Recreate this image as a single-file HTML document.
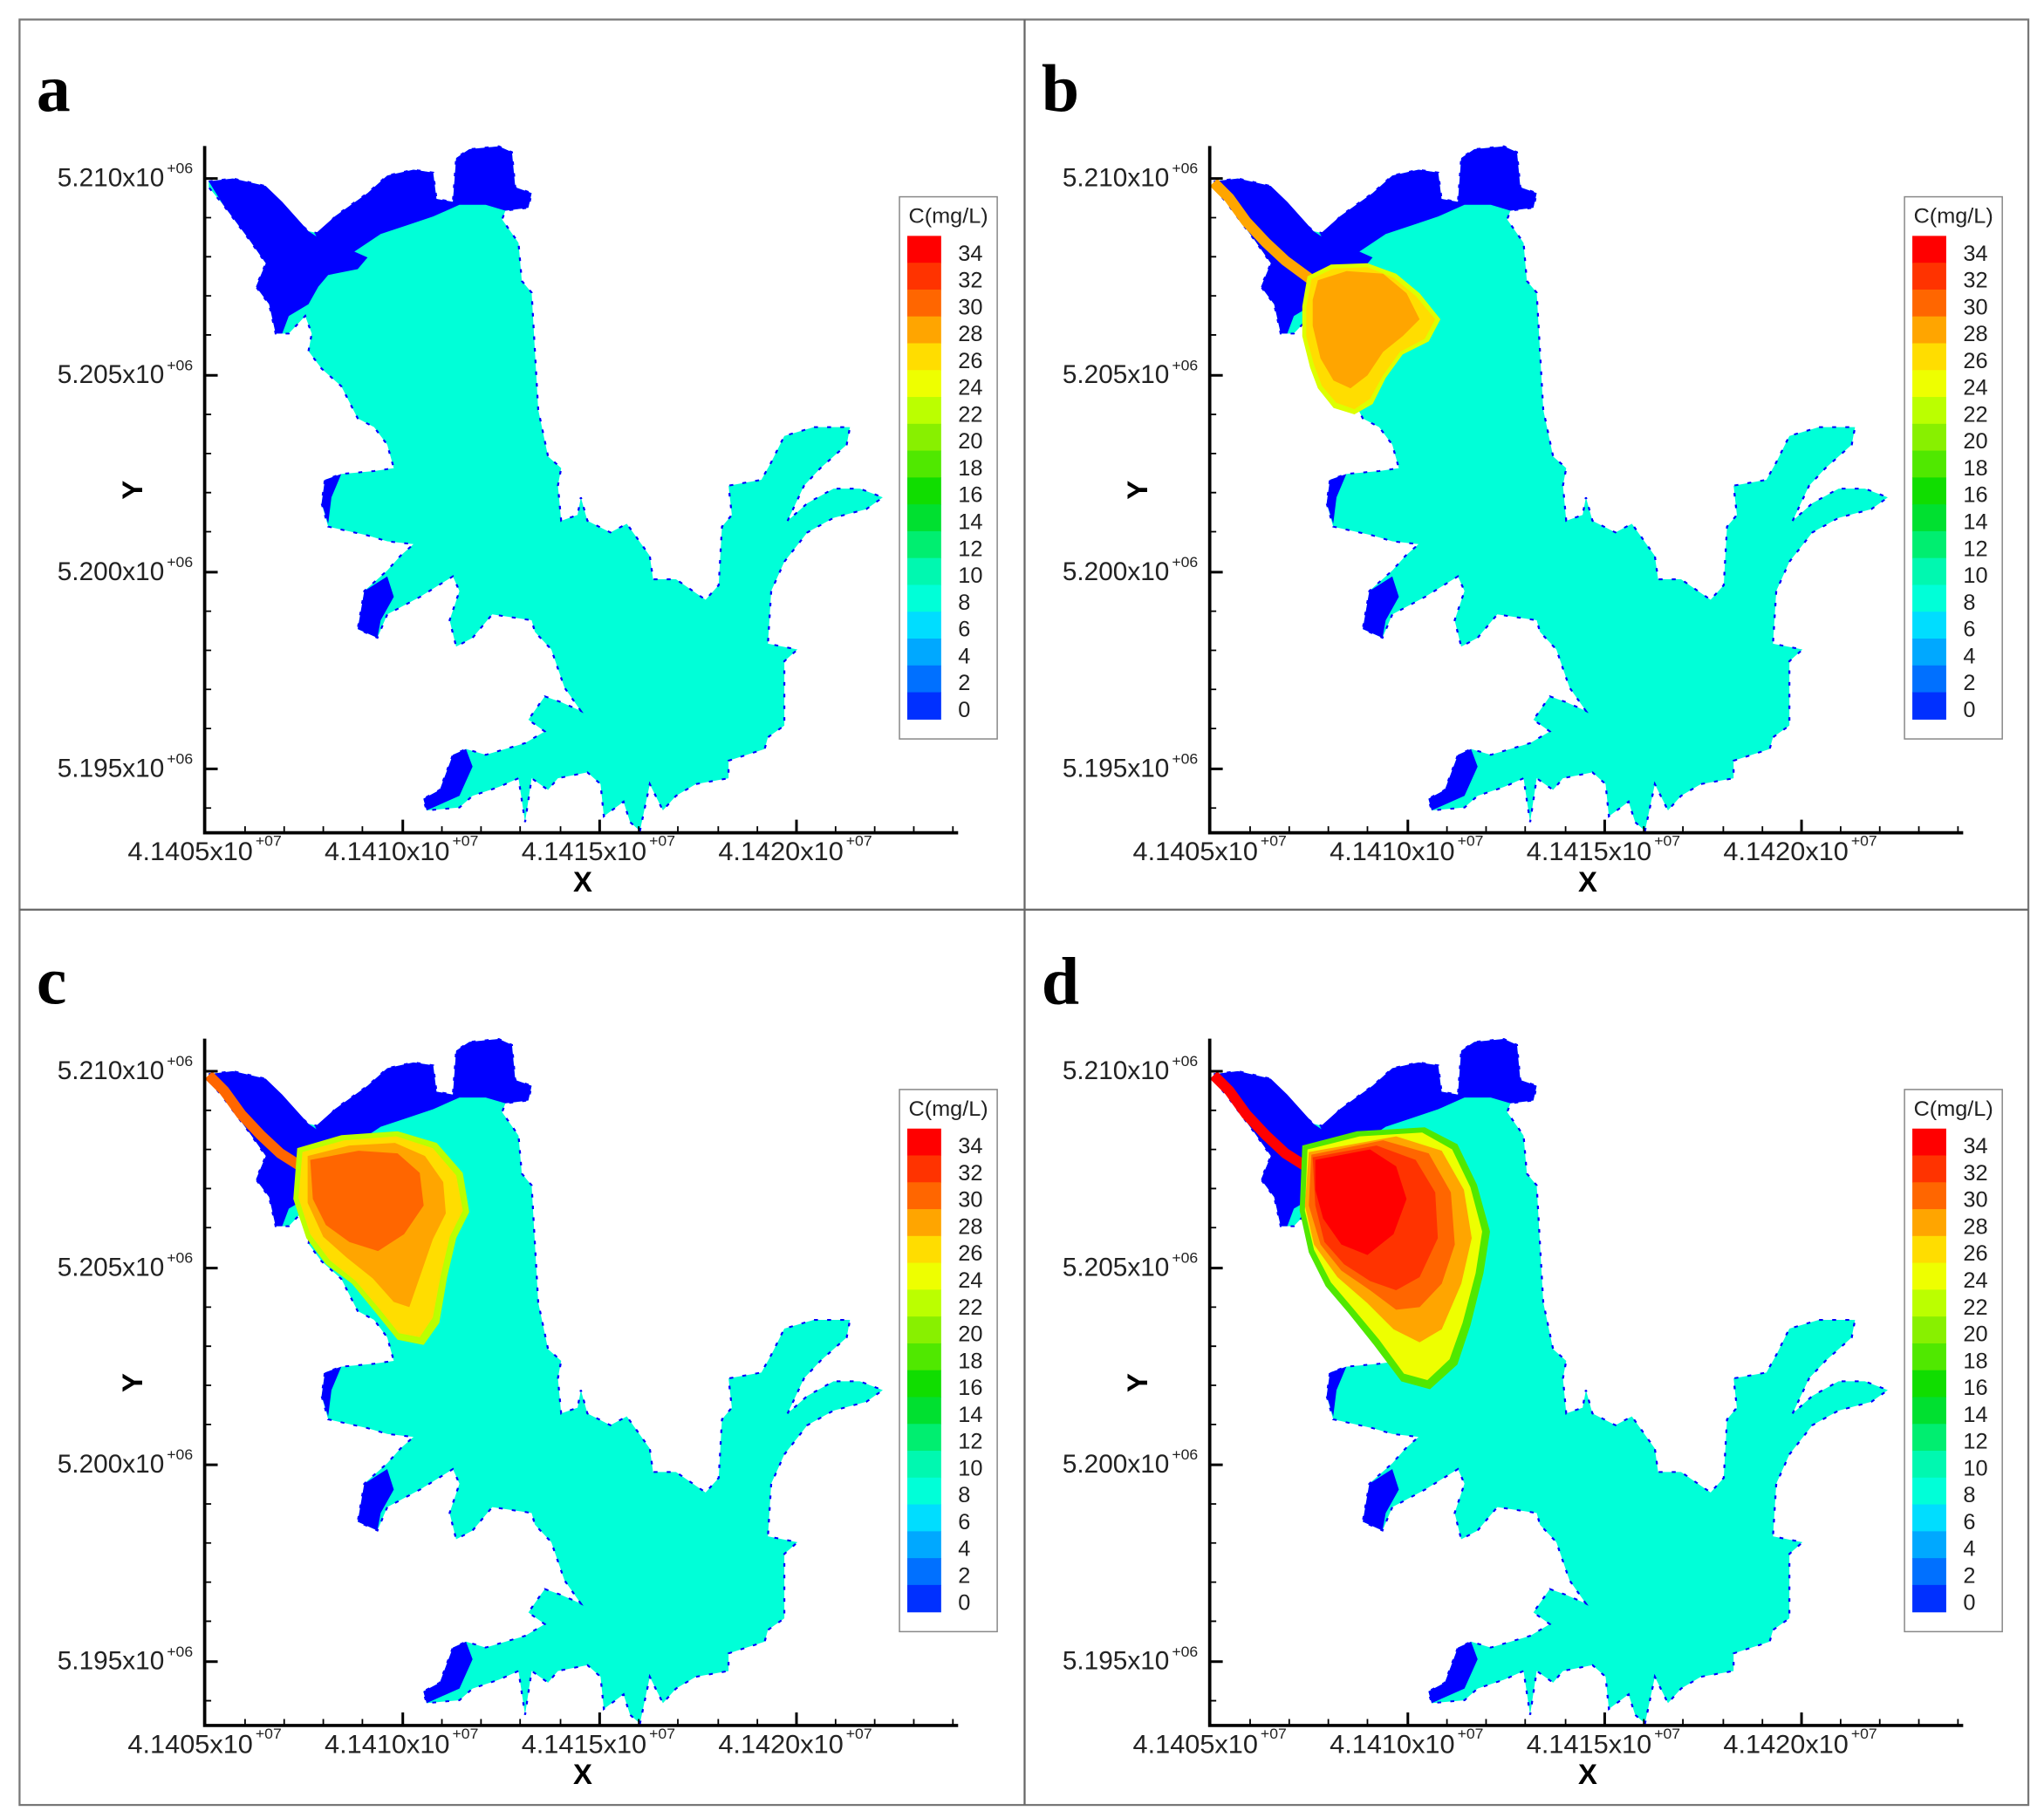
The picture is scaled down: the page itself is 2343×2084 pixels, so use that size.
<!DOCTYPE html>
<html><head><meta charset="utf-8"><style>
html,body{margin:0;padding:0;background:#fff}
svg{display:block}
</style></head><body>
<svg width="2343" height="2084" viewBox="0 0 1568 1395" preserveAspectRatio="none" xmlns="http://www.w3.org/2000/svg" xmlns:xlink="http://www.w3.org/1999/xlink">
<defs>
<g id="lake">
<g transform="scale(0.5035,0.449)">
<polygon fill="#00ffd8" stroke="#0000ff" stroke-width="3" stroke-dasharray="6 14" points="318,310 355,305 405,318 420,345 445,370 470,395 490,400 510,370 535,350 560,330 590,300 630,290 660,295 665,340 690,345 695,270 715,255 760,250 780,260 785,320 810,330 805,355 770,360 765,375 790,415 795,480 810,500 815,600 820,700 835,780 855,800 850,830 855,890 880,880 885,850 895,890 930,910 955,895 990,950 995,990 1030,990 1075,1025 1095,1000 1100,900 1115,880 1110,830 1160,820 1175,790 1195,745 1240,730 1295,730 1290,760 1250,800 1225,830 1200,890 1230,860 1270,835 1310,835 1345,850 1320,870 1270,885 1230,910 1195,960 1175,1010 1170,1100 1215,1110 1195,1130 1195,1240 1170,1260 1165,1280 1110,1300 1110,1330 1060,1340 1030,1360 1010,1385 990,1340 975,1420 960,1405 950,1370 920,1395 915,1340 895,1320 850,1330 835,1350 810,1330 800,1405 790,1330 760,1345 720,1360 700,1380 650,1385 645,1365 670,1350 690,1290 710,1280 740,1290 800,1270 830,1250 805,1230 830,1190 855,1200 885,1215 860,1175 840,1110 815,1080 810,1060 750,1050 720,1090 695,1105 685,1060 700,1010 690,985 640,1020 590,1050 575,1090 545,1075 555,1010 590,975 610,950 630,930 590,925 560,915 500,900 490,860 495,820 520,810 570,805 600,800 590,760 570,730 545,715 520,660 490,630 470,600 475,570 465,540 440,570 420,570 410,520 390,490 405,450 380,410 340,350 318,320"/>
<polygon fill="#0000ff" points="318,310 355,305 405,318 430,345 470,395 490,410 520,420 560,440 545,460 500,470 485,490 470,520 440,540 430,570 420,570 410,520 390,490 405,450 380,410 340,350"/>
<polygon fill="#0000ff" points="480,400 510,370 560,330 590,300 630,290 660,295 665,340 690,345 695,270 715,255 760,250 780,260 785,320 810,330 805,355 770,360 740,350 700,350 660,370 620,385 580,400 540,430 500,440"/>
<polygon fill="#0000ff" points="545,1075 555,1010 590,985 600,1020 580,1060 575,1090"/>
<polygon fill="#0000ff" points="645,1365 670,1350 690,1290 710,1280 720,1310 700,1360 650,1385"/>
<polygon fill="#0000ff" points="490,860 495,820 520,810 505,850 500,895"/>
</g>
</g>
<g id="axes" stroke="#000" fill="none">
<path d="M157,112V639H735" stroke-width="2.5"/>
<path d="M157,137h10M157,288h10M157,439h10M157,590h10M309,639v-10M460,639v-10M611,639v-10" stroke-width="2"/>
<path d="M157,167h5M157,197h5M157,227h5M157,257h5M157,318h5M157,348h5M157,378h5M157,408h5M157,469h5M157,499h5M157,529h5M157,559h5M157,620h5M188,639v-5M218,639v-5M248,639v-5M278,639v-5M339,639v-5M369,639v-5M399,639v-5M430,639v-5M490,639v-5M520,639v-5M551,639v-5M581,639v-5M641,639v-5M671,639v-5M701,639v-5M731,639v-5" stroke-width="1.2"/>
</g>
<g id="cbar">
<rect x="690" y="151" width="75" height="416" fill="#fff" stroke="#888" stroke-width="1"/>
<rect x="696" y="181" width="26" height="21" fill="#ff0000"/>
<rect x="696" y="201.6" width="26" height="21" fill="#ff3300"/>
<rect x="696" y="222.2" width="26" height="21" fill="#ff6600"/>
<rect x="696" y="242.8" width="26" height="21" fill="#ffa500"/>
<rect x="696" y="263.4" width="26" height="21" fill="#ffdd00"/>
<rect x="696" y="284" width="26" height="21" fill="#eeff00"/>
<rect x="696" y="304.6" width="26" height="21" fill="#bbff00"/>
<rect x="696" y="325.2" width="26" height="21" fill="#88f000"/>
<rect x="696" y="345.8" width="26" height="21" fill="#50e800"/>
<rect x="696" y="366.4" width="26" height="21" fill="#10dd00"/>
<rect x="696" y="387" width="26" height="21" fill="#00e030"/>
<rect x="696" y="407.6" width="26" height="21" fill="#00ee70"/>
<rect x="696" y="428.2" width="26" height="21" fill="#00f8b0"/>
<rect x="696" y="448.8" width="26" height="21" fill="#00ffd8"/>
<rect x="696" y="469.4" width="26" height="21" fill="#00ddff"/>
<rect x="696" y="490" width="26" height="21" fill="#00a8ff"/>
<rect x="696" y="510.6" width="26" height="21" fill="#0070ff"/>
<rect x="696" y="531.2" width="26" height="21" fill="#0030ff"/>
</g>
</defs>

<rect x="15" y="15" width="1541" height="1370" fill="none" stroke="#777" stroke-width="1.5"/>
<line x1="786" y1="15" x2="786" y2="1385" stroke="#666" stroke-width="1.5"/>
<line x1="15" y1="698" x2="1556" y2="698" stroke="#666" stroke-width="1.5"/>

<!-- PANEL A -->
<g transform="translate(0,0)">
<use xlink:href="#lake"/>
<use xlink:href="#axes"/>
<use xlink:href="#cbar"/>
<text x="28" y="85" font-family="Liberation Serif" font-weight="bold" font-size="52">a</text>
<g font-family="Liberation Sans" font-size="20" fill="#222">
<text x="44" y="143" textLength="82" lengthAdjust="spacingAndGlyphs">5.210x10</text><text x="128" y="133" font-size="11" textLength="20" lengthAdjust="spacingAndGlyphs">+06</text>
<text x="44" y="294" textLength="82" lengthAdjust="spacingAndGlyphs">5.205x10</text><text x="128" y="284" font-size="11" textLength="20" lengthAdjust="spacingAndGlyphs">+06</text>
<text x="44" y="445" textLength="82" lengthAdjust="spacingAndGlyphs">5.200x10</text><text x="128" y="435" font-size="11" textLength="20" lengthAdjust="spacingAndGlyphs">+06</text>
<text x="44" y="596" textLength="82" lengthAdjust="spacingAndGlyphs">5.195x10</text><text x="128" y="586" font-size="11" textLength="20" lengthAdjust="spacingAndGlyphs">+06</text>
<text x="98" y="660" textLength="96" lengthAdjust="spacingAndGlyphs">4.1405x10</text><text x="196" y="649" font-size="11" textLength="20" lengthAdjust="spacingAndGlyphs">+07</text>
<text x="249" y="660" textLength="96" lengthAdjust="spacingAndGlyphs">4.1410x10</text><text x="347" y="649" font-size="11" textLength="20" lengthAdjust="spacingAndGlyphs">+07</text>
<text x="400" y="660" textLength="96" lengthAdjust="spacingAndGlyphs">4.1415x10</text><text x="498" y="649" font-size="11" textLength="20" lengthAdjust="spacingAndGlyphs">+07</text>
<text x="551" y="660" textLength="96" lengthAdjust="spacingAndGlyphs">4.1420x10</text><text x="649" y="649" font-size="11" textLength="20" lengthAdjust="spacingAndGlyphs">+07</text>
<text x="447" y="684" text-anchor="middle" font-weight="bold" font-size="22" fill="#000">X</text>
<text transform="translate(109,376) rotate(-90)" text-anchor="middle" font-weight="bold" font-size="22" fill="#000">Y</text>
<text x="697" y="171" font-size="16" textLength="61" lengthAdjust="spacingAndGlyphs">C(mg/L)</text>
<g font-size="17"><text x="735" y="200">34</text><text x="735" y="220.6">32</text><text x="735" y="241.2">30</text><text x="735" y="261.8">28</text><text x="735" y="282.4">26</text><text x="735" y="303">24</text><text x="735" y="323.6">22</text><text x="735" y="344.2">20</text><text x="735" y="364.8">18</text><text x="735" y="385.4">16</text><text x="735" y="406">14</text><text x="735" y="426.6">12</text><text x="735" y="447.2">10</text><text x="735" y="467.8">8</text><text x="735" y="488.4">6</text><text x="735" y="509">4</text><text x="735" y="529.6">2</text><text x="735" y="550.2">0</text></g>
</g>
</g>

<!-- PANEL B -->
<g transform="translate(771,0)">
<use xlink:href="#lake"/>
<polyline points="160,140 172,152 185,170 200,186 215,200 234,214" fill="none" stroke="#ffa500" stroke-width="8"/>
<polygon fill="#ddff00" points="232,212 250,203 278,202 300,210 318,225 334,245 325,262 305,272 292,290 282,310 268,318 252,313 240,298 234,282 228,258 228,235"/>
<polygon fill="#ffdd00" points="235,214 252,206 278,205 298,213 315,227 330,245 322,260 303,270 290,288 280,306 268,314 254,309 243,296 237,280 231,258 231,236"/>
<polygon fill="#ffa500" points="240,215 262,208 290,210 308,225 318,245 305,258 290,270 278,288 265,298 252,292 242,275 236,250 236,230"/>
<use xlink:href="#axes"/>
<use xlink:href="#cbar"/>
<text x="28" y="85" font-family="Liberation Serif" font-weight="bold" font-size="52">b</text>
<g font-family="Liberation Sans" font-size="20" fill="#222">
<text x="44" y="143" textLength="82" lengthAdjust="spacingAndGlyphs">5.210x10</text><text x="128" y="133" font-size="11" textLength="20" lengthAdjust="spacingAndGlyphs">+06</text>
<text x="44" y="294" textLength="82" lengthAdjust="spacingAndGlyphs">5.205x10</text><text x="128" y="284" font-size="11" textLength="20" lengthAdjust="spacingAndGlyphs">+06</text>
<text x="44" y="445" textLength="82" lengthAdjust="spacingAndGlyphs">5.200x10</text><text x="128" y="435" font-size="11" textLength="20" lengthAdjust="spacingAndGlyphs">+06</text>
<text x="44" y="596" textLength="82" lengthAdjust="spacingAndGlyphs">5.195x10</text><text x="128" y="586" font-size="11" textLength="20" lengthAdjust="spacingAndGlyphs">+06</text>
<text x="98" y="660" textLength="96" lengthAdjust="spacingAndGlyphs">4.1405x10</text><text x="196" y="649" font-size="11" textLength="20" lengthAdjust="spacingAndGlyphs">+07</text>
<text x="249" y="660" textLength="96" lengthAdjust="spacingAndGlyphs">4.1410x10</text><text x="347" y="649" font-size="11" textLength="20" lengthAdjust="spacingAndGlyphs">+07</text>
<text x="400" y="660" textLength="96" lengthAdjust="spacingAndGlyphs">4.1415x10</text><text x="498" y="649" font-size="11" textLength="20" lengthAdjust="spacingAndGlyphs">+07</text>
<text x="551" y="660" textLength="96" lengthAdjust="spacingAndGlyphs">4.1420x10</text><text x="649" y="649" font-size="11" textLength="20" lengthAdjust="spacingAndGlyphs">+07</text>
<text x="447" y="684" text-anchor="middle" font-weight="bold" font-size="22" fill="#000">X</text>
<text transform="translate(109,376) rotate(-90)" text-anchor="middle" font-weight="bold" font-size="22" fill="#000">Y</text>
<text x="697" y="171" font-size="16" textLength="61" lengthAdjust="spacingAndGlyphs">C(mg/L)</text>
<g font-size="17"><text x="735" y="200">34</text><text x="735" y="220.6">32</text><text x="735" y="241.2">30</text><text x="735" y="261.8">28</text><text x="735" y="282.4">26</text><text x="735" y="303">24</text><text x="735" y="323.6">22</text><text x="735" y="344.2">20</text><text x="735" y="364.8">18</text><text x="735" y="385.4">16</text><text x="735" y="406">14</text><text x="735" y="426.6">12</text><text x="735" y="447.2">10</text><text x="735" y="467.8">8</text><text x="735" y="488.4">6</text><text x="735" y="509">4</text><text x="735" y="529.6">2</text><text x="735" y="550.2">0</text></g>
</g>
</g>

<!-- PANEL C -->
<g transform="translate(0,685)">
<use xlink:href="#lake"/>
<polyline points="160,140 172,152 185,170 200,186 215,200 234,212" fill="none" stroke="#ff6600" stroke-width="8"/>
<polygon fill="#bbff00" points="228,196 262,186 305,183 335,192 355,215 360,245 350,265 343,295 337,330 325,347 305,343 288,322 270,300 250,285 235,265 225,235"/>
<polygon fill="#ffdd00" points="232,199 264,190 304,187 332,196 350,217 355,244 345,264 338,294 332,326 322,341 306,338 290,318 273,298 253,282 238,262 229,234"/>
<polygon fill="#ffa500" points="236,202 268,194 303,192 326,202 340,222 342,246 332,266 322,295 314,318 302,314 286,296 266,280 248,264 236,238"/>
<polygon fill="#ff6600" points="238,205 275,198 305,200 322,215 325,240 310,262 290,275 268,268 250,255 240,235"/>
<use xlink:href="#axes"/>
<use xlink:href="#cbar"/>
<text x="28" y="85" font-family="Liberation Serif" font-weight="bold" font-size="52">c</text>
<g font-family="Liberation Sans" font-size="20" fill="#222">
<text x="44" y="143" textLength="82" lengthAdjust="spacingAndGlyphs">5.210x10</text><text x="128" y="133" font-size="11" textLength="20" lengthAdjust="spacingAndGlyphs">+06</text>
<text x="44" y="294" textLength="82" lengthAdjust="spacingAndGlyphs">5.205x10</text><text x="128" y="284" font-size="11" textLength="20" lengthAdjust="spacingAndGlyphs">+06</text>
<text x="44" y="445" textLength="82" lengthAdjust="spacingAndGlyphs">5.200x10</text><text x="128" y="435" font-size="11" textLength="20" lengthAdjust="spacingAndGlyphs">+06</text>
<text x="44" y="596" textLength="82" lengthAdjust="spacingAndGlyphs">5.195x10</text><text x="128" y="586" font-size="11" textLength="20" lengthAdjust="spacingAndGlyphs">+06</text>
<text x="98" y="660" textLength="96" lengthAdjust="spacingAndGlyphs">4.1405x10</text><text x="196" y="649" font-size="11" textLength="20" lengthAdjust="spacingAndGlyphs">+07</text>
<text x="249" y="660" textLength="96" lengthAdjust="spacingAndGlyphs">4.1410x10</text><text x="347" y="649" font-size="11" textLength="20" lengthAdjust="spacingAndGlyphs">+07</text>
<text x="400" y="660" textLength="96" lengthAdjust="spacingAndGlyphs">4.1415x10</text><text x="498" y="649" font-size="11" textLength="20" lengthAdjust="spacingAndGlyphs">+07</text>
<text x="551" y="660" textLength="96" lengthAdjust="spacingAndGlyphs">4.1420x10</text><text x="649" y="649" font-size="11" textLength="20" lengthAdjust="spacingAndGlyphs">+07</text>
<text x="447" y="684" text-anchor="middle" font-weight="bold" font-size="22" fill="#000">X</text>
<text transform="translate(109,376) rotate(-90)" text-anchor="middle" font-weight="bold" font-size="22" fill="#000">Y</text>
<text x="697" y="171" font-size="16" textLength="61" lengthAdjust="spacingAndGlyphs">C(mg/L)</text>
<g font-size="17"><text x="735" y="200">34</text><text x="735" y="220.6">32</text><text x="735" y="241.2">30</text><text x="735" y="261.8">28</text><text x="735" y="282.4">26</text><text x="735" y="303">24</text><text x="735" y="323.6">22</text><text x="735" y="344.2">20</text><text x="735" y="364.8">18</text><text x="735" y="385.4">16</text><text x="735" y="406">14</text><text x="735" y="426.6">12</text><text x="735" y="447.2">10</text><text x="735" y="467.8">8</text><text x="735" y="488.4">6</text><text x="735" y="509">4</text><text x="735" y="529.6">2</text><text x="735" y="550.2">0</text></g>
</g>
</g>

<!-- PANEL D -->
<g transform="translate(771,685)">
<use xlink:href="#lake"/>
<polyline points="160,140 172,152 185,170 200,186 215,200 234,212" fill="none" stroke="#ff0000" stroke-width="8"/>
<polygon fill="#50e800" points="228,194 270,183 322,180 347,193 362,224 372,260 367,292 357,332 347,362 326,381 304,375 283,347 263,322 246,302 233,276 226,244"/>
<polygon fill="#eeff00" points="232,197 272,187 320,184 343,197 357,226 366,260 361,292 351,330 341,358 324,374 306,369 287,343 267,319 250,299 237,274 230,244"/>
<polygon fill="#ffa500" points="233,199 300,187 335,198 352,228 358,265 350,300 335,335 318,345 298,335 278,315 255,295 237,270 230,240"/>
<polygon fill="#ff6600" points="235,201 290,190 325,200 342,230 345,270 335,300 318,318 300,320 280,305 258,290 242,270 233,240"/>
<polygon fill="#ff3300" points="236,203 285,194 315,205 330,230 332,265 318,295 300,305 280,298 260,285 245,268 238,240"/>
<polygon fill="#ff0000" points="238,205 280,197 300,210 308,235 298,262 278,278 258,270 244,250 238,228"/>
<use xlink:href="#axes"/>
<use xlink:href="#cbar"/>
<text x="28" y="85" font-family="Liberation Serif" font-weight="bold" font-size="52">d</text>
<g font-family="Liberation Sans" font-size="20" fill="#222">
<text x="44" y="143" textLength="82" lengthAdjust="spacingAndGlyphs">5.210x10</text><text x="128" y="133" font-size="11" textLength="20" lengthAdjust="spacingAndGlyphs">+06</text>
<text x="44" y="294" textLength="82" lengthAdjust="spacingAndGlyphs">5.205x10</text><text x="128" y="284" font-size="11" textLength="20" lengthAdjust="spacingAndGlyphs">+06</text>
<text x="44" y="445" textLength="82" lengthAdjust="spacingAndGlyphs">5.200x10</text><text x="128" y="435" font-size="11" textLength="20" lengthAdjust="spacingAndGlyphs">+06</text>
<text x="44" y="596" textLength="82" lengthAdjust="spacingAndGlyphs">5.195x10</text><text x="128" y="586" font-size="11" textLength="20" lengthAdjust="spacingAndGlyphs">+06</text>
<text x="98" y="660" textLength="96" lengthAdjust="spacingAndGlyphs">4.1405x10</text><text x="196" y="649" font-size="11" textLength="20" lengthAdjust="spacingAndGlyphs">+07</text>
<text x="249" y="660" textLength="96" lengthAdjust="spacingAndGlyphs">4.1410x10</text><text x="347" y="649" font-size="11" textLength="20" lengthAdjust="spacingAndGlyphs">+07</text>
<text x="400" y="660" textLength="96" lengthAdjust="spacingAndGlyphs">4.1415x10</text><text x="498" y="649" font-size="11" textLength="20" lengthAdjust="spacingAndGlyphs">+07</text>
<text x="551" y="660" textLength="96" lengthAdjust="spacingAndGlyphs">4.1420x10</text><text x="649" y="649" font-size="11" textLength="20" lengthAdjust="spacingAndGlyphs">+07</text>
<text x="447" y="684" text-anchor="middle" font-weight="bold" font-size="22" fill="#000">X</text>
<text transform="translate(109,376) rotate(-90)" text-anchor="middle" font-weight="bold" font-size="22" fill="#000">Y</text>
<text x="697" y="171" font-size="16" textLength="61" lengthAdjust="spacingAndGlyphs">C(mg/L)</text>
<g font-size="17"><text x="735" y="200">34</text><text x="735" y="220.6">32</text><text x="735" y="241.2">30</text><text x="735" y="261.8">28</text><text x="735" y="282.4">26</text><text x="735" y="303">24</text><text x="735" y="323.6">22</text><text x="735" y="344.2">20</text><text x="735" y="364.8">18</text><text x="735" y="385.4">16</text><text x="735" y="406">14</text><text x="735" y="426.6">12</text><text x="735" y="447.2">10</text><text x="735" y="467.8">8</text><text x="735" y="488.4">6</text><text x="735" y="509">4</text><text x="735" y="529.6">2</text><text x="735" y="550.2">0</text></g>
</g>
</g>
</svg>
</body></html>
